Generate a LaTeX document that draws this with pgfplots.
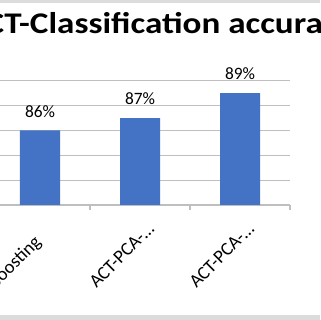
\documentclass[border=0pt]{standalone}
\usepackage{pgfplots}
\pgfplotsset{compat=1.18}
\usepackage{fontspec}
\setmainfont{Carlito}
\definecolor{barblue}{HTML}{4472C4}
\definecolor{gridgray}{HTML}{BFBFBF}
\definecolor{framegray}{HTML}{DCDCDC}
\begin{document}
\begin{tikzpicture}
\useasboundingbox (0,0) rectangle (240pt,240pt);
\clip (0,0) rectangle (240pt,240pt);
\fill[white] (0,0) rectangle (240pt,240pt);
\begin{axis}[
  at={(-7.5pt,86.25pt)}, anchor=south west,
  scale only axis, width=225pt, height=93.2pt,
  xmin=-0.5, xmax=2.5, ymin=80, ymax=90,
  ytick={80,82,84,86,88,90}, yticklabels={},
  ymajorgrids, grid style={gridgray, line width=0.8pt},
  axis x line*=bottom, axis y line*=left,
  x axis line style={gridgray, line width=0.8pt},
  y axis line style={draw=none},
  major y tick style={draw=none},
  xtick={0,1,2},
  xticklabels={{Gradient boosting\rule{14pt}{0pt}},{ACT-PCA-…},{ACT-PCA-…}},
  major x tick style={draw=none},
  minor xtick={-0.5,0.5,1.5,2.5},
  minor x tick style={gridgray, line width=0.8pt},
  xtick align=outside, minor tick length=3.75pt,
  x tick label style={xshift=11.5pt, yshift=-14.5pt, rotate=45, anchor=base east, inner sep=0pt, font=\fontsize{14}{16}\selectfont},
  ybar, bar width=30pt,
  /pgf/number format/assume math mode=true,
  nodes near coords={\pgfmathprintnumber[fixed,precision=0,assume math mode=true]{\pgfplotspointmeta}\%},
  nodes near coords style={anchor=base, yshift=10pt, inner sep=0pt, font=\fontsize{13}{15}\selectfont, black},
  clip=false,
]
\addplot[draw=none, fill=barblue] coordinates {(0,86) (1,87) (2,89)};
\end{axis}
\node[anchor=base west, inner sep=0pt, font=\fontsize{22.5}{27}\selectfont\bfseries] at (3.0pt,215pt) {\scalebox{1.17}[1]{\llap{AC}T-Classification accuracy}};
\fill[framegray] (0,238pt) rectangle (240pt,240pt);
\fill[framegray] (0,0) rectangle (240pt,3.5pt);
\end{tikzpicture}
\end{document}
